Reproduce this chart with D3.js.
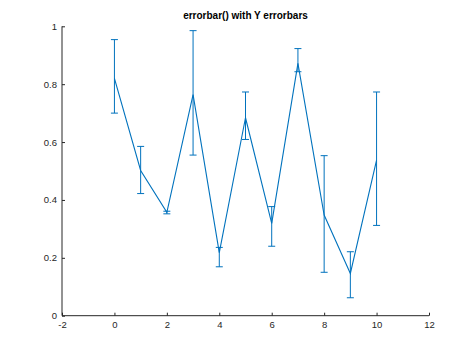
<!DOCTYPE html>
<html><head><meta charset="utf-8">
<script src="https://cdn.jsdelivr.net/npm/d3@7"></script>
<style>body{margin:0;background:#fff}svg{display:block}</style>
</head><body>
<script>
const xs = [0,1,2,3,4,5,6,7,8,9,10];
const ys = [0.820,0.502,0.357,0.764,0.218,0.684,0.319,0.872,0.348,0.146,0.538];
const yUpper = [0.954,0.585,0.361,0.985,0.236,0.773,0.377,0.923,0.553,0.221,0.773];
const yLower = [0.700,0.422,0.352,0.555,0.169,0.609,0.240,0.843,0.150,0.062,0.312];
const xTicks = [-2,0,2,4,6,8,10,12];
const yTicks = [0,0.2,0.4,0.6,0.8,1];
const titleText = "errorbar() with Y errorbars";

const W=474,H=355;
const svg=d3.select("body").append("svg").attr("width",W).attr("height",H);
const x=d3.scaleLinear().domain([-2,12]).range([62,429]);
const y=d3.scaleLinear().domain([0,1]).range([315.7,26.3]);
const axisColor="#262626";
const font="Liberation Sans, Arial, Helvetica, sans-serif";

const xa=svg.append("g").attr("transform",`translate(0,${y(0)})`)
 .call(d3.axisBottom(x).tickValues(xTicks).tickSize(-3).tickPadding(6).tickFormat(d=>String(d)));
const ya=svg.append("g").attr("transform",`translate(${x(-2)},0)`)
 .call(d3.axisLeft(y).tickValues(yTicks).tickSize(-3).tickPadding(5).tickFormat(d=>d===0||d===1?String(d):d.toFixed(1)));
[xa,ya].forEach(a=>{
 a.select(".domain").attr("stroke",axisColor).attr("stroke-width",1);
 a.selectAll(".tick line").attr("stroke",axisColor);
 a.selectAll(".tick text").attr("fill",axisColor).style("font-family",font).style("font-size","9.5px");
});
xa.selectAll(".domain").attr("d",`M${x(-2)},0H${x(12)}`);
ya.selectAll(".domain").attr("d",`M0,${y(0)}V${y(1)}`);

const col="#0072BD";
const g=svg.append("g");
const idx=d3.range(xs.length);
g.selectAll("line.eb").data(idx).join("line").attr("class","eb")
 .attr("x1",i=>x(xs[i])).attr("x2",i=>x(xs[i]))
 .attr("y1",i=>y(yLower[i])).attr("y2",i=>y(yUpper[i]))
 .attr("stroke",col).attr("stroke-width",1);
const cw=3.5;
["u","l"].forEach(k=>{
 g.selectAll("line.cap"+k).data(idx).join("line").attr("class","cap"+k)
  .attr("x1",i=>x(xs[i])-cw).attr("x2",i=>x(xs[i])+cw)
  .attr("y1",i=>y(k==="u"?yUpper[i]:yLower[i])).attr("y2",i=>y(k==="u"?yUpper[i]:yLower[i]))
  .attr("stroke",col).attr("stroke-width",1);
});
g.append("path").datum(idx)
 .attr("d",d3.line().x(i=>x(xs[i])).y(i=>y(ys[i])))
 .attr("fill","none").attr("stroke",col).attr("stroke-width",1.1);

svg.append("text").attr("x",245.5).attr("y",18.5).attr("text-anchor","middle")
 .style("font-family",font).style("font-weight","bold").style("font-size","10px")
 .attr("fill","#000").text(titleText);
</script>
</body></html>
